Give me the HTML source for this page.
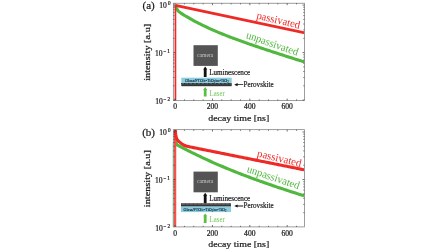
<!DOCTYPE html>
<html><head><meta charset="utf-8"><style>
html,body{margin:0;padding:0;background:#fff;width:448px;height:252px;overflow:hidden}
svg{display:block;filter:blur(0.3px)}
text{font-family:"Liberation Serif",serif}
</style></head><body>
<svg width="448" height="252" viewBox="0 0 448 252">
<defs><clipPath id="clip"><rect x="173.35" y="3.25" width="131.05" height="97.25"/></clipPath></defs>
<g>
<rect x="193.5" y="45.2" width="24.3" height="20.7" fill="#545454"/>
<text x="196.9" y="57.0" font-size="5.7" fill="#c2c2c2" textLength="16.5" lengthAdjust="spacingAndGlyphs">camera</text>
<path d="M205.2,66.4 L207.3,69.4 L206.6,69.4 L206.6,76.9 L203.8,76.9 L203.8,69.4 L203.1,69.4 Z" fill="#111"/>
<text x="209.2" y="74.7" font-size="7.6" fill="#1a1a1a" stroke="#1a1a1a" stroke-width="0.22" textLength="41" lengthAdjust="spacingAndGlyphs">Luminescence</text>
<rect x="181.3" y="77.7" width="50.4" height="5.4" fill="#88cde0"/>
<rect x="181.30" y="83.10" width="50.40" height="3.1" fill="#353535"/><rect x="181.30" y="83.10" width="50.40" height="1.1" fill="#8a8a8a"/><path d="M181.30,83.65 h50.40" stroke="#2a2a2a" stroke-width="1.1" stroke-dasharray="0.9 0.5 0.5 0.6 1.1 0.4"/>
<text x="185.2" y="81.8" font-size="5.0" fill="#10192a" stroke="#10192a" stroke-width="0.12" textLength="43.4" lengthAdjust="spacingAndGlyphs">Glass/FTO/c-TiO<tspan font-size="3.6" dy="0.8">2</tspan><tspan dy="-0.8">/m-TiO</tspan><tspan font-size="3.6" dy="0.8">2</tspan></text>
<path d="M234.2,84.70 l3.4,-1.6 v1.2 h5.6 v0.8 h-5.6 v1.2 Z" fill="#111"/>
<text x="243.6" y="86.80" font-size="8.3" fill="#1a1a1a" stroke="#1a1a1a" stroke-width="0.22" textLength="30" lengthAdjust="spacingAndGlyphs">Perovskite</text>
<path d="M205.2,87.0 L207.3,89.9 L206.6,89.9 L206.6,96.6 L203.8,96.6 L203.8,89.9 L203.1,89.9 Z" fill="#5cbf44"/>
<text x="209.6" y="95.7" font-size="7.6" fill="#6cc653" textLength="15.2" lengthAdjust="spacingAndGlyphs">Laser</text>
<g clip-path="url(#clip)">
<path d="M175.66,5.60 L175.75,5.96 L175.85,6.30 L175.94,6.62 L176.03,6.92 L176.13,7.20 L176.22,7.47 L176.31,7.73 L176.41,7.97 L176.50,8.20 L176.59,8.42 L176.69,8.63 L176.78,8.82 L176.87,9.01 L176.97,9.19 L177.06,9.36 L177.45,9.98 L177.83,10.50 L178.22,10.94 L178.60,11.33 L178.99,11.68 L179.37,12.00 L179.76,12.30 L180.14,12.58 L180.53,12.85 L180.91,13.12 L181.30,13.37 L181.68,13.62 L182.07,13.87 L182.46,14.12 L182.84,14.36 L183.23,14.60 L183.61,14.84 L184.00,15.07 L184.38,15.31 L184.77,15.54 L185.15,15.77 L185.54,16.00 L185.92,16.23 L186.31,16.46 L186.68,16.68 L188.41,17.69 L190.14,18.68 L191.86,19.64 L193.59,20.59 L195.32,21.51 L197.04,22.42 L198.77,23.31 L200.50,24.19 L202.23,25.04 L203.95,25.88 L205.68,26.71 L207.41,27.52 L209.14,28.31 L210.86,29.09 L212.59,29.86 L214.32,30.62 L216.04,31.36 L217.77,32.09 L219.50,32.81 L221.23,33.52 L222.95,34.22 L224.68,34.92 L226.41,35.60 L228.13,36.27 L229.86,36.94 L231.59,37.60 L233.32,38.25 L235.04,38.89 L236.77,39.53 L238.50,40.16 L240.23,40.79 L241.95,41.41 L243.68,42.03 L245.41,42.64 L247.13,43.25 L248.86,43.85 L250.59,44.45 L252.32,45.04 L254.04,45.64 L255.77,46.22 L257.50,46.81 L259.22,47.39 L260.95,47.97 L262.68,48.55 L264.41,49.12 L266.13,49.69 L267.86,50.27 L269.59,50.83 L271.32,51.40 L273.04,51.96 L274.77,52.53 L276.50,53.09 L278.22,53.65 L279.95,54.21 L281.68,54.77 L283.41,55.32 L285.13,55.88 L286.86,56.43 L288.59,56.98 L290.31,57.54 L292.04,58.09 L293.77,58.64 L295.50,59.19 L297.22,59.74 L298.95,60.29 L300.68,60.83 L302.41,61.38 L304.13,61.93" stroke="#50b83e" stroke-width="3.1" fill="none" stroke-linejoin="round"/>
<path d="M175.45,100.5 V5.3" stroke="#ee2a26" stroke-width="1.7" fill="none"/>
<path d="M175.50,5.30 L305.00,33.00" stroke="#ee2a26" stroke-width="2.8" fill="none" stroke-linejoin="round"/>
</g>
<rect x="173.35" y="3.25" width="131.05" height="97.25" fill="none" stroke="#858585" stroke-width="0.8"/>
<path d="M175.10,100.50v-1.9M175.10,3.25v1.9M184.44,100.50v-1.1M184.44,3.25v1.1M193.78,100.50v-1.1M193.78,3.25v1.1M203.12,100.50v-1.1M203.12,3.25v1.1M212.46,100.50v-1.9M212.46,3.25v1.9M221.80,100.50v-1.1M221.80,3.25v1.1M231.14,100.50v-1.1M231.14,3.25v1.1M240.48,100.50v-1.1M240.48,3.25v1.1M249.82,100.50v-1.9M249.82,3.25v1.9M259.16,100.50v-1.1M259.16,3.25v1.1M268.50,100.50v-1.1M268.50,3.25v1.1M277.84,100.50v-1.1M277.84,3.25v1.1M287.18,100.50v-1.9M287.18,3.25v1.9M296.52,100.50v-1.1M296.52,3.25v1.1M173.35,5.10h1.9M304.40,5.10h-1.9M173.35,52.60h1.9M304.40,52.60h-1.9M173.35,38.30h1.1M304.40,38.30h-1.1M173.35,29.94h1.1M304.40,29.94h-1.1M173.35,24.00h1.1M304.40,24.00h-1.1M173.35,19.40h1.1M304.40,19.40h-1.1M173.35,15.64h1.1M304.40,15.64h-1.1M173.35,12.46h1.1M304.40,12.46h-1.1M173.35,9.70h1.1M304.40,9.70h-1.1M173.35,7.27h1.1M304.40,7.27h-1.1M173.35,100.10h1.9M304.40,100.10h-1.9M173.35,85.80h1.1M304.40,85.80h-1.1M173.35,77.44h1.1M304.40,77.44h-1.1M173.35,71.50h1.1M304.40,71.50h-1.1M173.35,66.90h1.1M304.40,66.90h-1.1M173.35,63.14h1.1M304.40,63.14h-1.1M173.35,59.96h1.1M304.40,59.96h-1.1M173.35,57.20h1.1M304.40,57.20h-1.1M173.35,54.77h1.1M304.40,54.77h-1.1" fill="none" stroke="#333" stroke-width="0.7"/>
<text x="148.6" y="9.20" font-size="11" text-anchor="middle" fill="#1a1a1a" stroke="#1a1a1a" stroke-width="0.22">(a)</text>
<g transform="translate(0,0.00)">
<text x="166.9" y="8.0" font-size="7.6" text-anchor="end" fill="#1a1a1a" stroke="#1a1a1a" stroke-width="0.22">10</text><text x="168.0" y="4.6" font-size="5.2" fill="#1a1a1a" stroke="#1a1a1a" stroke-width="0.22">0</text>
<text x="162.6" y="55.9" font-size="7.6" text-anchor="end" fill="#1a1a1a" stroke="#1a1a1a" stroke-width="0.22">10</text><text x="163.6" y="52.6" font-size="5.2" fill="#1a1a1a" stroke="#1a1a1a" stroke-width="0.22" textLength="6.3" lengthAdjust="spacing">−1</text>
<text x="162.8" y="103.9" font-size="7.6" text-anchor="end" fill="#1a1a1a" stroke="#1a1a1a" stroke-width="0.22">10</text><text x="163.6" y="100.9" font-size="5.2" fill="#1a1a1a" stroke="#1a1a1a" stroke-width="0.22" textLength="6.4" lengthAdjust="spacing">−2</text>
</g>
<text x="175.10" y="109.3" font-size="7.6" text-anchor="middle" fill="#1a1a1a" stroke="#1a1a1a" stroke-width="0.22">0</text>
<text x="212.46" y="109.3" font-size="7.6" text-anchor="middle" fill="#1a1a1a" stroke="#1a1a1a" stroke-width="0.22">200</text>
<text x="249.82" y="109.3" font-size="7.6" text-anchor="middle" fill="#1a1a1a" stroke="#1a1a1a" stroke-width="0.22">400</text>
<text x="287.18" y="109.3" font-size="7.6" text-anchor="middle" fill="#1a1a1a" stroke="#1a1a1a" stroke-width="0.22">600</text>
<text x="208.2" y="120.7" font-size="9.2" fill="#1a1a1a" stroke="#1a1a1a" stroke-width="0.22" textLength="61" lengthAdjust="spacingAndGlyphs">decay time [ns]</text>
<text transform="translate(150.0,80.8) rotate(-90)" font-size="9.2" fill="#1a1a1a" stroke="#1a1a1a" stroke-width="0.22" textLength="57" lengthAdjust="spacingAndGlyphs">intensity [a.u]</text>
<text transform="translate(255.9,18.4) rotate(13.3)" font-size="11" fill="#ee2a26" textLength="44.6" lengthAdjust="spacingAndGlyphs">passivated</text><text transform="translate(245.4,37.9) rotate(19)" font-size="11" fill="#50b83e" textLength="54.5" lengthAdjust="spacingAndGlyphs">unpassivated</text>
</g>
<g transform="translate(0,126.4)">
<rect x="193.5" y="45.2" width="24.3" height="20.7" fill="#545454"/>
<text x="196.9" y="57.0" font-size="5.7" fill="#c2c2c2" textLength="16.5" lengthAdjust="spacingAndGlyphs">camera</text>
<path d="M205.2,66.4 L207.3,69.4 L206.6,69.4 L206.6,76.9 L203.8,76.9 L203.8,69.4 L203.1,69.4 Z" fill="#111"/>
<text x="209.2" y="74.7" font-size="7.6" fill="#1a1a1a" stroke="#1a1a1a" stroke-width="0.22" textLength="41" lengthAdjust="spacingAndGlyphs">Luminescence</text>
<rect x="181.00" y="77.10" width="50.00" height="3.1" fill="#353535"/><rect x="181.00" y="77.10" width="50.00" height="1.1" fill="#8a8a8a"/><path d="M181.00,77.65 h50.00" stroke="#2a2a2a" stroke-width="1.1" stroke-dasharray="0.9 0.5 0.5 0.6 1.1 0.4"/>
<rect x="181.0" y="80.2" width="50.0" height="5.5" fill="#88cde0"/>
<text x="183.6" y="84.4" font-size="5.0" fill="#10192a" stroke="#10192a" stroke-width="0.12" textLength="42.8" lengthAdjust="spacingAndGlyphs">Glass/FTO/c-TiO<tspan font-size="3.6" dy="0.8">2</tspan><tspan dy="-0.8">/m-TiO</tspan><tspan font-size="3.6" dy="0.8">2</tspan></text>
<path d="M234.2,79.60 l3.4,-1.6 v1.2 h5.6 v0.8 h-5.6 v1.2 Z" fill="#111"/>
<text x="243.6" y="81.70" font-size="8.3" fill="#1a1a1a" stroke="#1a1a1a" stroke-width="0.22" textLength="30" lengthAdjust="spacingAndGlyphs">Perovskite</text>
<path d="M205.2,87.0 L207.3,89.9 L206.6,89.9 L206.6,96.6 L203.8,96.6 L203.8,89.9 L203.1,89.9 Z" fill="#5cbf44"/>
<text x="209.6" y="95.7" font-size="7.6" fill="#6cc653" textLength="15.2" lengthAdjust="spacingAndGlyphs">Laser</text>
<g clip-path="url(#clip)">
<path d="M175.00,14.90 L176.00,16.20 L177.06,18.47 L177.45,18.67 L177.83,18.88 L178.22,19.09 L178.60,19.29 L178.99,19.50 L179.37,19.70 L179.76,19.90 L180.14,20.11 L180.53,20.31 L180.91,20.51 L181.30,20.72 L181.68,20.92 L182.07,21.12 L182.46,21.32 L182.84,21.52 L183.23,21.72 L183.61,21.92 L184.00,22.12 L184.38,22.32 L184.77,22.52 L185.15,22.72 L185.54,22.92 L185.92,23.12 L186.31,23.31 L186.68,23.51 L188.41,24.38 L190.14,25.26 L191.86,26.12 L193.59,26.97 L195.32,27.82 L197.04,28.66 L198.77,29.50 L200.50,30.32 L202.23,31.14 L203.95,31.95 L205.68,32.75 L207.41,33.54 L209.14,34.33 L210.86,35.11 L212.59,35.89 L214.32,36.65 L216.04,37.41 L217.77,38.16 L219.50,38.91 L221.23,39.65 L222.95,40.38 L224.68,41.11 L226.41,41.83 L228.13,42.54 L229.86,43.25 L231.59,43.95 L233.32,44.64 L235.04,45.33 L236.77,46.02 L238.50,46.70 L240.23,47.37 L241.95,48.04 L243.68,48.70 L245.41,49.36 L247.13,50.01 L248.86,50.66 L250.59,51.30 L252.32,51.94 L254.04,52.57 L255.77,53.20 L257.50,53.82 L259.22,54.44 L260.95,55.06 L262.68,55.67 L264.41,56.28 L266.13,56.89 L267.86,57.49 L269.59,58.09 L271.32,58.68 L273.04,59.27 L274.77,59.86 L276.50,60.45 L278.22,61.03 L279.95,61.61 L281.68,62.18 L283.41,62.75 L285.13,63.32 L286.86,63.89 L288.59,64.46 L290.31,65.02 L292.04,65.58 L293.77,66.14 L295.50,66.69 L297.22,67.25 L298.95,67.80 L300.68,68.35 L302.41,68.90 L304.13,69.44" stroke="#50b83e" stroke-width="3.1" fill="none" stroke-linejoin="round"/>
<path d="M175.05,100.5 V4.5" stroke="#f4524c" stroke-width="2.4" fill="none"/>
<path d="M175.30,3.40 L175.70,8.10 L176.30,11.20 L177.20,13.20 L178.30,14.60 L180.00,16.00 L182.00,17.60 L184.00,18.80 L186.31,19.66 L186.68,19.75 L188.41,20.16 L190.14,20.53 L191.86,20.88 L193.59,21.24 L195.32,21.58 L197.04,21.93 L198.77,22.28 L200.50,22.63 L202.23,22.97 L203.95,23.32 L205.68,23.66 L207.41,24.01 L209.14,24.36 L210.86,24.70 L212.59,25.05 L214.32,25.40 L216.04,25.74 L217.77,26.09 L219.50,26.44 L221.23,26.78 L222.95,27.13 L224.68,27.48 L226.41,27.82 L228.13,28.17 L229.86,28.52 L231.59,28.86 L233.32,29.21 L235.04,29.56 L236.77,29.90 L238.50,30.25 L240.23,30.60 L241.95,30.94 L243.68,31.29 L245.41,31.63 L247.13,31.98 L248.86,32.33 L250.59,32.67 L252.32,33.02 L254.04,33.37 L255.77,33.71 L257.50,34.06 L259.22,34.41 L260.95,34.75 L262.68,35.10 L264.41,35.45 L266.13,35.79 L267.86,36.14 L269.59,36.49 L271.32,36.83 L273.04,37.18 L274.77,37.53 L276.50,37.87 L278.22,38.22 L279.95,38.57 L281.68,38.91 L283.41,39.26 L285.13,39.60 L286.86,39.95 L288.59,40.30 L290.31,40.64 L292.04,40.99 L293.77,41.34 L295.50,41.68 L297.22,42.03 L298.95,42.38 L300.68,42.72 L302.41,43.07 L304.13,43.42" stroke="#ee2a26" stroke-width="3.1" fill="none" stroke-linejoin="round"/>
</g>
<rect x="173.35" y="3.25" width="131.05" height="97.25" fill="none" stroke="#858585" stroke-width="0.8"/>
<path d="M172.9,100.5 V16.0" stroke="#50b83e" stroke-width="1.0" stroke-opacity="0.3" fill="none"/>
<path d="M175.10,100.50v-1.9M175.10,3.25v1.9M184.44,100.50v-1.1M184.44,3.25v1.1M193.78,100.50v-1.1M193.78,3.25v1.1M203.12,100.50v-1.1M203.12,3.25v1.1M212.46,100.50v-1.9M212.46,3.25v1.9M221.80,100.50v-1.1M221.80,3.25v1.1M231.14,100.50v-1.1M231.14,3.25v1.1M240.48,100.50v-1.1M240.48,3.25v1.1M249.82,100.50v-1.9M249.82,3.25v1.9M259.16,100.50v-1.1M259.16,3.25v1.1M268.50,100.50v-1.1M268.50,3.25v1.1M277.84,100.50v-1.1M277.84,3.25v1.1M287.18,100.50v-1.9M287.18,3.25v1.9M296.52,100.50v-1.1M296.52,3.25v1.1M173.35,5.60h1.9M304.40,5.60h-1.9M173.35,53.10h1.9M304.40,53.10h-1.9M173.35,38.80h1.1M304.40,38.80h-1.1M173.35,30.44h1.1M304.40,30.44h-1.1M173.35,24.50h1.1M304.40,24.50h-1.1M173.35,19.90h1.1M304.40,19.90h-1.1M173.35,16.14h1.1M304.40,16.14h-1.1M173.35,12.96h1.1M304.40,12.96h-1.1M173.35,10.20h1.1M304.40,10.20h-1.1M173.35,7.77h1.1M304.40,7.77h-1.1M173.35,86.30h1.1M304.40,86.30h-1.1M173.35,77.94h1.1M304.40,77.94h-1.1M173.35,72.00h1.1M304.40,72.00h-1.1M173.35,67.40h1.1M304.40,67.40h-1.1M173.35,63.64h1.1M304.40,63.64h-1.1M173.35,60.46h1.1M304.40,60.46h-1.1M173.35,57.70h1.1M304.40,57.70h-1.1M173.35,55.27h1.1M304.40,55.27h-1.1" fill="none" stroke="#333" stroke-width="0.7"/>
<text x="148.6" y="10.10" font-size="11" text-anchor="middle" fill="#1a1a1a" stroke="#1a1a1a" stroke-width="0.22">(b)</text>
<g transform="translate(0,1.00)">
<text x="166.9" y="8.0" font-size="7.6" text-anchor="end" fill="#1a1a1a" stroke="#1a1a1a" stroke-width="0.22">10</text><text x="168.0" y="4.6" font-size="5.2" fill="#1a1a1a" stroke="#1a1a1a" stroke-width="0.22">0</text>
<text x="162.6" y="55.9" font-size="7.6" text-anchor="end" fill="#1a1a1a" stroke="#1a1a1a" stroke-width="0.22">10</text><text x="163.6" y="52.6" font-size="5.2" fill="#1a1a1a" stroke="#1a1a1a" stroke-width="0.22" textLength="6.3" lengthAdjust="spacing">−1</text>
<text x="162.8" y="103.9" font-size="7.6" text-anchor="end" fill="#1a1a1a" stroke="#1a1a1a" stroke-width="0.22">10</text><text x="163.6" y="100.9" font-size="5.2" fill="#1a1a1a" stroke="#1a1a1a" stroke-width="0.22" textLength="6.4" lengthAdjust="spacing">−2</text>
</g>
<text x="175.10" y="109.3" font-size="7.6" text-anchor="middle" fill="#1a1a1a" stroke="#1a1a1a" stroke-width="0.22">0</text>
<text x="212.46" y="109.3" font-size="7.6" text-anchor="middle" fill="#1a1a1a" stroke="#1a1a1a" stroke-width="0.22">200</text>
<text x="249.82" y="109.3" font-size="7.6" text-anchor="middle" fill="#1a1a1a" stroke="#1a1a1a" stroke-width="0.22">400</text>
<text x="287.18" y="109.3" font-size="7.6" text-anchor="middle" fill="#1a1a1a" stroke="#1a1a1a" stroke-width="0.22">600</text>
<text x="208.2" y="120.7" font-size="9.2" fill="#1a1a1a" stroke="#1a1a1a" stroke-width="0.22" textLength="61" lengthAdjust="spacingAndGlyphs">decay time [ns]</text>
<text transform="translate(150.0,80.8) rotate(-90)" font-size="9.2" fill="#1a1a1a" stroke="#1a1a1a" stroke-width="0.22" textLength="57" lengthAdjust="spacingAndGlyphs">intensity [a.u]</text>
</g>
<text transform="translate(256.6,156.5) rotate(13.3)" font-size="11" fill="#ee2a26" textLength="45.2" lengthAdjust="spacingAndGlyphs">passivated</text><text transform="translate(246.3,171.9) rotate(18.5)" font-size="11" fill="#50b83e" textLength="54.8" lengthAdjust="spacingAndGlyphs">unpassivated</text>
</svg>
</body></html>
